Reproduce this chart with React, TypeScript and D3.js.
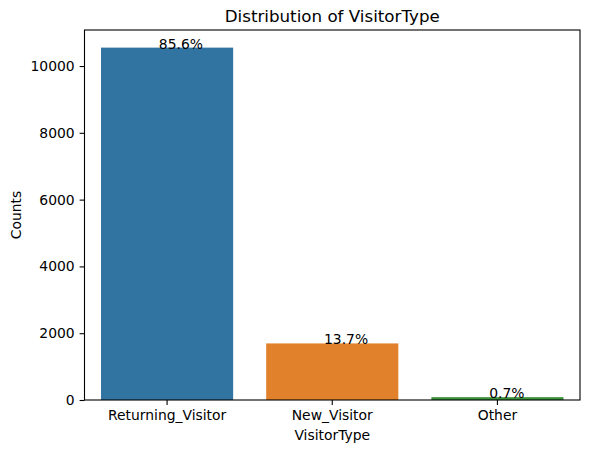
import { useEffect, useRef } from "react";
import * as d3 from "d3";

const categories = ["Returning_Visitor", "New_Visitor", "Other"];
const counts = [10551, 1694, 85];
const colors = ["#3274a1", "#e1812c", "#3a923a"];
const yTicks = [0, 2000, 4000, 6000, 8000, 10000];

const width = 589;
const height = 453;

export default function App() {
  const svgRef = useRef<SVGSVGElement | null>(null);

  useEffect(() => {
    const svg = d3.select(svgRef.current);
    svg.selectAll("*").remove();

    const margin = { top: 30, right: 9, bottom: 53, left: 84.5 };
    const total = d3.sum(counts);

    const x = d3
      .scaleBand<string>()
      .domain(categories)
      .range([margin.left, width - margin.right])
      .paddingInner(0.2)
      .paddingOuter(0.1);

    const y = d3
      .scaleLinear()
      .domain([0, d3.max(counts)! * 1.05])
      .range([height - margin.bottom, margin.top]);

    const font = "DejaVu Sans, sans-serif";
    const fs = "13.9px";

    // bars
    svg
      .selectAll(".bar")
      .data(counts)
      .join("rect")
      .attr("class", "bar")
      .attr("x", (_, i) => x(categories[i])!)
      .attr("width", x.bandwidth())
      .attr("y", (d) => y(d))
      .attr("height", (d) => y(0) - y(d))
      .attr("fill", (_, i) => colors[i]);

    // percent labels (left-aligned, nudged left of bar centre)
    svg
      .selectAll(".pct")
      .data(counts)
      .join("text")
      .attr("class", "pct")
      .attr("x", (_, i) => x(categories[i])! + x.bandwidth() / 2 - 0.05 * x.step())
      .attr("y", (d) => y(d) + 1)
      .attr("text-anchor", "start")
      .style("font-family", font)
      .style("font-size", fs)
      .style("fill", "#000")
      .text((d) => ((d / total) * 100).toFixed(1) + "%");

    // y axis
    const yAxis = svg
      .append("g")
      .attr("transform", `translate(${margin.left},0)`)
      .call(d3.axisLeft(y).tickValues(yTicks).tickSize(4.9).tickPadding(4.9).tickFormat(d3.format("d")));
    yAxis.select(".domain").remove();
    yAxis.selectAll("line").attr("stroke", "#000").attr("stroke-width", 1.1);
    yAxis.selectAll("text").style("font-family", font).style("font-size", fs).style("fill", "#000");

    // x axis
    const xAxis = svg
      .append("g")
      .attr("transform", `translate(0,${height - margin.bottom})`)
      .call(d3.axisBottom(x).tickSize(4.9).tickPadding(4.9));
    xAxis.select(".domain").remove();
    xAxis.selectAll("line").attr("stroke", "#000").attr("stroke-width", 1.1);
    xAxis.selectAll("text").style("font-family", font).style("font-size", fs).style("fill", "#000");

    // frame
    svg
      .append("rect")
      .attr("x", margin.left)
      .attr("y", margin.top)
      .attr("width", width - margin.left - margin.right)
      .attr("height", height - margin.top - margin.bottom)
      .attr("fill", "none")
      .attr("stroke", "#000")
      .attr("stroke-width", 1.1);

    // title
    svg
      .append("text")
      .attr("x", (margin.left + width - margin.right) / 2)
      .attr("y", margin.top - 8)
      .attr("text-anchor", "middle")
      .style("font-family", font)
      .style("font-size", "16.7px")
      .style("fill", "#000")
      .text("Distribution of VisitorType");

    // axis labels
    svg
      .append("text")
      .attr("x", (margin.left + width - margin.right) / 2)
      .attr("y", height - 13)
      .attr("text-anchor", "middle")
      .style("font-family", font)
      .style("font-size", fs)
      .style("fill", "#000")
      .text("VisitorType");

    svg
      .append("text")
      .attr("transform", `translate(21,${(margin.top + height - margin.bottom) / 2}) rotate(-90)`)
      .attr("text-anchor", "middle")
      .style("font-family", font)
      .style("font-size", fs)
      .style("fill", "#000")
      .text("Counts");
  }, []);

  return (
    <svg
      ref={svgRef}
      width={width}
      height={height}
      style={{ position: "absolute", left: 0, top: 0, background: "#fff" }}
    />
  );
}
